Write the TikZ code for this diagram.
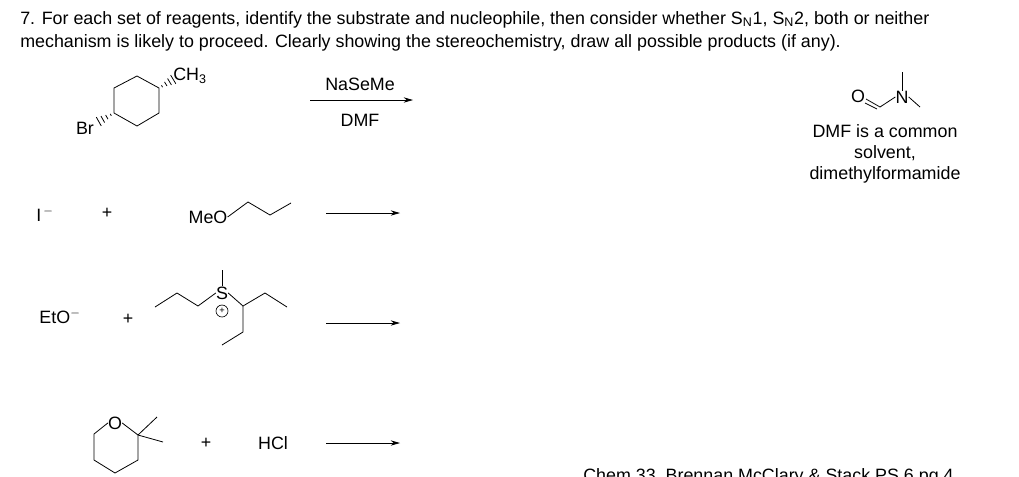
\documentclass[tikz,border=0pt]{standalone}
\usepackage{fontspec}
\setmainfont{Liberation Sans}
\usetikzlibrary{arrows.meta,calc}
\begin{document}
\begin{tikzpicture}[x=0.75pt,y=-0.75pt,
  txt/.style={inner sep=0pt,font=\fontsize{13.4}{15.5}\selectfont},
  bd/.style={line width=0.6pt},
  rx/.style={line width=0.6pt,-{Stealth[length=7pt,width=4pt]}}]
\useasboundingbox (0,0) rectangle (1019,476);
\clip (0,0) rectangle (1019,476);
\node[txt,anchor=base west] (h1) at (20,24) {7. For each set of reagents, identify the substrate and nucleophile, then consider whether S\textsubscript{N}1, S\textsubscript{N}2, both or neither};
\node[txt,anchor=base west] (h2) at (20,47) {mechanism is likely to proceed. Clearly showing the stereochemistry, draw all possible products (if any).};
% cyclohexane
\coordinate (c1) at (137,76); \coordinate (c2) at (159,88); \coordinate (c3) at (159,113);
\coordinate (c4) at (137,126); \coordinate (c5) at (114,113); \coordinate (c6) at (114,88);
\draw[bd] (c1)--(c2)--(c3)--(c4)--(c5)--(c6)--cycle;
\coordinate (me) at (174,79);
\coordinate (brb) at (98,122);
\foreach \t in {0.2,0.45,0.7,0.95}{
  \draw[bd] ($(c2)!\t!(me)!\t*4pt!90:(me)$) -- ($(c2)!\t!(me)!\t*4pt!-90:(me)$);
  \draw[bd] ($(c5)!\t!(brb)!\t*4pt!90:(brb)$) -- ($(c5)!\t!(brb)!\t*4pt!-90:(brb)$);
}
\node[txt,anchor=west] (ch3) at (173,76) {CH\textsubscript{3}};
\node[txt] (br) at (85,128) {Br};
% arrow 1
\coordinate (a1s) at (310,100); \coordinate (a1e) at (413,100);
\draw[rx] (a1s)--(a1e);
\node[txt] (nase) at (360,84) {NaSeMe};
\node[txt] (dmf) at (360,120) {DMF};
% DMF
\node[txt] (o) at (858,96) {O};
\node[txt] (n) at (902,97) {N};
\coordinate (cc) at (880,107);
\draw[bd] (866,99) -- (cc);
\draw[bd] (865,103) -- (877,109);
\draw[bd] (cc)--(n.west);
\draw[bd] (n.north)--(902,72);
\draw[bd] (n.east)--(920,107);
\node[txt,align=center] (dmft) at (885,154) {DMF is a common\\solvent,\\dimethylformamide};
% row 2
\node[txt] (io) at (45,214) {I\textsuperscript{\,$-$}};
\node[txt] (p1) at (107,213) {+};
\node[txt] (meo) at (208,217) {MeO};
\draw[bd] (meo.east) -- (248,202) -- (270,215) -- (291,203);
\draw[rx] (326,213)--(400,213);
% row 3
\node[txt] (eto) at (60,317) {EtO\textsuperscript{$-$}};
\node[txt] (p2) at (128,319) {+};
\node[txt] (s) at (222,293) {S};
\draw[bd] (155,307)--(177,293)--(198,306)--(s.west);
\draw[bd] (s.north)--(222,270);
\draw[bd] (s.east)--(243,306)--(265,293)--(287,307);
\draw[bd] (243,306)--(243,332)--(222,345);
\node[circle,draw,line width=0.5pt,inner sep=0pt,minimum size=9pt,font=\fontsize{7}{7}\selectfont] (pl) at (222,311) {+};
\draw[rx] (326,323)--(400,323);
% row 4
\node[txt] (ox) at (115,423) {O};
\coordinate (t2) at (138,435); \coordinate (t3) at (138,460); \coordinate (t4) at (115,473);
\coordinate (t5) at (94,460); \coordinate (t6) at (94,434);
\draw[bd] (ox.east)--(t2)--(t3)--(t4)--(t5)--(t6)--(ox.west);
\draw[bd] (t2)--(157,417); \draw[bd] (t2)--(163,442);
\node[txt] (p3) at (206,443) {+};
\node[txt] (hcl) at (273,443) {HCl};
\draw[rx] (326,443)--(400,443);
\node[txt,anchor=north west] (foot) at (583,468) {Chem 33, Brennan McClary \& Stack PS 6 pg 4};
\end{tikzpicture}
\end{document}
